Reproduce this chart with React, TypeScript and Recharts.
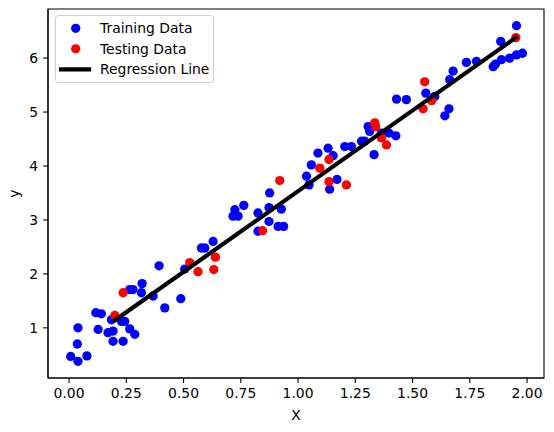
import {
  Legend,
  ReferenceArea,
  Scatter,
  ScatterChart,
  XAxis,
  YAxis,
} from 'recharts'

const trainX = [
  0.007, 0.036, 0.039, 0.039, 0.078, 0.117, 0.127, 0.141, 0.17, 0.185, 0.192, 0.192, 0.229, 0.236, 0.243,
  0.265, 0.265, 0.279, 0.287, 0.316, 0.319, 0.367, 0.393, 0.418, 0.488, 0.505, 0.578, 0.593, 0.629, 0.716,
  0.724, 0.738, 0.763, 0.825, 0.825, 0.873, 0.873, 0.876, 0.913, 0.927, 0.937, 1.037, 1.048, 1.058, 1.087,
  1.131, 1.138, 1.153, 1.17, 1.204, 1.233, 1.277, 1.291, 1.306, 1.313, 1.332, 1.364, 1.397, 1.427, 1.43,
  1.473, 1.558, 1.597, 1.641, 1.659, 1.662, 1.677, 1.735, 1.779, 1.852, 1.862, 1.885, 1.888, 1.924, 1.954,
  1.954, 1.98,
]
const trainY = [
  0.47, 0.7, 0.38, 1.0, 0.48, 1.28, 0.97, 1.26, 0.91, 1.15, 0.94, 0.75, 1.12, 0.75, 1.12,
  0.98, 1.71, 1.71, 0.88, 1.65, 1.82, 1.59, 2.15, 1.37, 1.54, 2.09, 2.48, 2.48, 2.6, 3.07,
  3.19, 3.07, 3.27, 3.13, 2.79, 3.23, 2.97, 3.5, 2.88, 3.2, 2.88, 3.81, 3.65, 4.02, 4.24,
  4.33, 3.57, 4.19, 3.75, 4.36, 4.36, 4.46, 4.46, 4.73, 4.64, 4.21, 4.61, 4.61, 4.56, 5.24,
  5.23, 5.35, 5.29, 4.93, 5.06, 5.6, 5.76, 5.92, 5.94, 5.84, 5.89, 6.31, 5.97, 6.0, 6.06,
  6.6, 6.09,
]

const testX = [
  0.2, 0.236, 0.527, 0.563, 0.632, 0.639, 0.845, 0.92, 1.095, 1.135, 1.135, 1.211, 1.335, 1.339, 1.364,
  1.386, 1.546, 1.553, 1.583, 1.951,
]
const testY = [
  1.23, 1.65, 2.21, 2.04, 2.08, 2.31, 2.8, 3.73, 3.96, 4.12, 3.71, 3.65, 4.8, 4.73, 4.52,
  4.39, 5.06, 5.56, 5.21, 6.38,
]

// ends of the fitted line
const lineX = [0.2, 1.951]
const lineY = [1.14, 6.38]

const xTicks = [0, 0.25, 0.5, 0.75, 1, 1.25, 1.5, 1.75, 2]
const yTicks = [1, 2, 3, 4, 5, 6]
const xDomain = [-0.092, 2.074]
const yDomain = [0.07, 6.91]

const seriesNames = ['Training Data', 'Testing Data', 'Regression Line']

const toPoints = (xs: number[], ys: number[]) => xs.map((x, i) => ({ x, y: ys[i] }))

const trainData = toPoints(trainX, trainY)
const testData = toPoints(testX, testY)
const lineData = toPoints(lineX, lineY)

const FONT = '"DejaVu Sans", sans-serif'
const tickStyle = { fill: '#000', fontSize: 13.9, fontFamily: FONT }

const dot = (color: string) => (p: any) => <circle cx={p.cx} cy={p.cy} r={4.65} fill={color} />

function LegendBox({ payload }: any) {
  const items = [...(payload || [])].sort(
    (a: any, b: any) => seriesNames.indexOf(a.value) - seriesNames.indexOf(b.value),
  )
  return (
    <svg width={160} height={69} style={{ display: 'block' }}>
      <rect x={0.5} y={0.5} width={158} height={67} rx={3} fill="rgba(255,255,255,0.8)" stroke="#cccccc" />
      {items.map((entry: any, i: number) => {
        const cy = 13.3 + i * 20.5
        return (
          <g key={entry.value}>
            {entry.type === 'line' ? (
              <line x1={6} x2={34} y1={cy} y2={cy} stroke={entry.color} strokeWidth={4.17} strokeLinecap="square" />
            ) : (
              <circle cx={20.7} cy={cy} r={4.65} fill={entry.color} />
            )}
            <text x={45} y={cy + 5} fontSize={13.9} fontFamily={FONT} fill="#000">
              {entry.value}
            </text>
          </g>
        )
      })}
    </svg>
  )
}

export default function App() {
  return (
    <div style={{ position: 'absolute', left: 0, top: 0, width: 554, height: 432, background: '#fff' }}>
      <ScatterChart width={554} height={432} margin={{ top: 9, right: 10, bottom: 0, left: 0 }}>
        <XAxis
          type="number"
          dataKey="x"
          domain={xDomain}
          ticks={xTicks}
          tickFormatter={(v: number) => v.toFixed(2)}
          allowDataOverflow
          height={54}
          tick={tickStyle}
          tickSize={4.9}
          tickMargin={5}
          stroke="#000"
          strokeWidth={1.1}
          label={{
            content: ({ viewBox }: any) => (
              <text x={viewBox.x + viewBox.width / 2} y={420} textAnchor="middle" fontSize={13.9} fontFamily={FONT} fill="#000">
                X
              </text>
            ),
          }}
        />
        <YAxis
          type="number"
          dataKey="y"
          domain={yDomain}
          ticks={yTicks}
          allowDataOverflow
          width={48}
          tick={tickStyle}
          tickSize={4.9}
          tickMargin={5}
          stroke="#000"
          strokeWidth={1.1}
          label={{
            content: ({ viewBox }: any) => (
              <text
                x={18.5}
                y={viewBox.y + viewBox.height / 2}
                transform={`rotate(-90 18.5 ${viewBox.y + viewBox.height / 2})`}
                textAnchor="middle"
                fontSize={13.9}
                fontFamily={FONT}
                fill="#000"
              >
                y
              </text>
            ),
          }}
        />
        {/* frame round the plot, like matplotlib's spines */}
        <ReferenceArea
          x1={xDomain[0]}
          x2={xDomain[1]}
          y1={yDomain[0]}
          y2={yDomain[1]}
          fill="none"
          fillOpacity={0}
          stroke="#000"
          strokeWidth={1.1}
          ifOverflow="visible"
        />
        <Legend
          layout="vertical"
          align="center"
          verticalAlign="middle"
          content={<LegendBox />}
          wrapperStyle={{ left: 55, top: 15, width: 160, height: 69 }}
        />
        <Scatter
          name="Training Data"
          data={trainData}
          fill="#0000ff"
          legendType="circle"
          shape={dot('#0000ff')}
          isAnimationActive={false}
        />
        <Scatter
          name="Testing Data"
          data={testData}
          fill="#ff0000"
          legendType="circle"
          shape={dot('#ff0000')}
          isAnimationActive={false}
        />
        <Scatter
          name="Regression Line"
          data={lineData}
          fill="#000000"
          legendType="line"
          line={{ stroke: '#000', strokeWidth: 4.17, strokeLinecap: 'square' }}
          shape={() => <g />}
          isAnimationActive={false}
        />
      </ScatterChart>
    </div>
  )
}
